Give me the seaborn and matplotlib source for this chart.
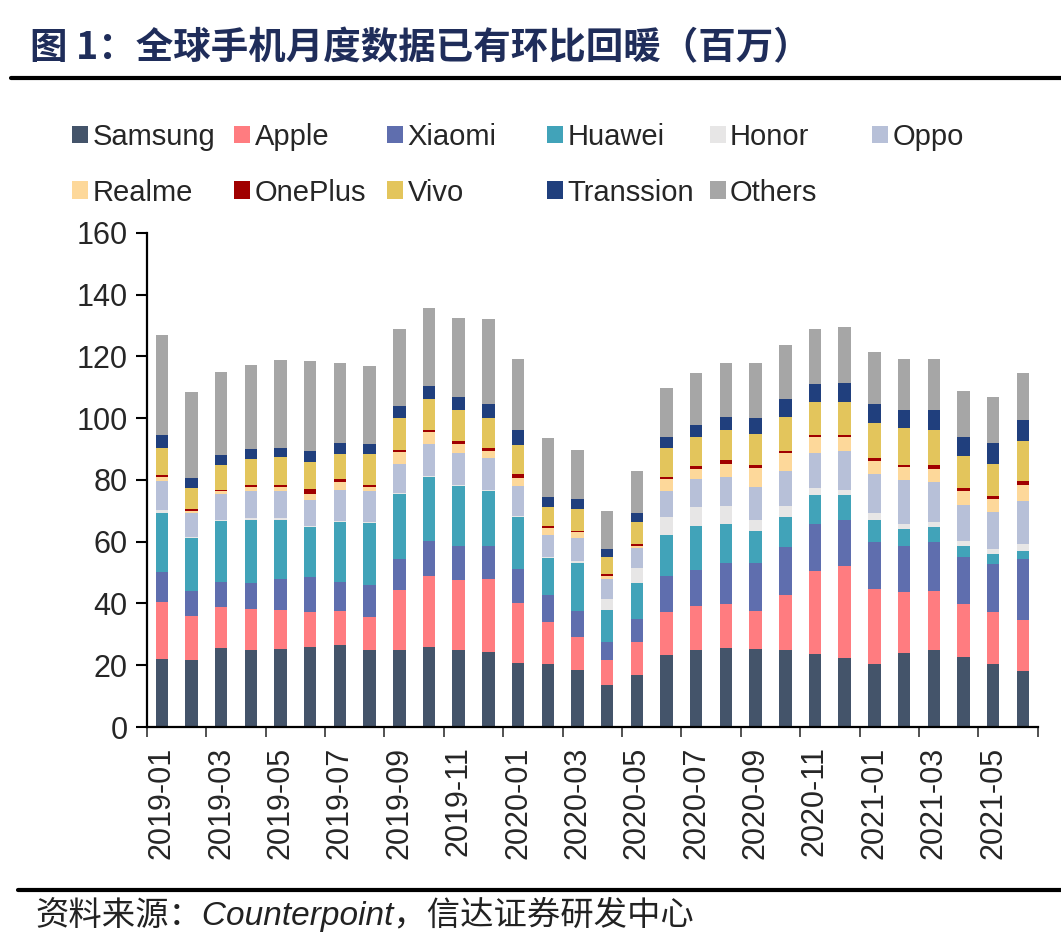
import numpy as np
import pandas as pd
import seaborn as sns
from matplotlib import pyplot as plt
from matplotlib.lines import Line2D
from matplotlib.patches import Patch

months = [
    "2019-01", "2019-02", "2019-03", "2019-04", "2019-05", "2019-06",
    "2019-07", "2019-08", "2019-09", "2019-10", "2019-11", "2019-12",
    "2020-01", "2020-02", "2020-03", "2020-04", "2020-05", "2020-06",
    "2020-07", "2020-08", "2020-09", "2020-10", "2020-11", "2020-12",
    "2021-01", "2021-02", "2021-03", "2021-04", "2021-05", "2021-06",
]

# monthly shipments, millions
samsung = [21.9, 21.6, 25.6, 25.0, 25.3, 25.9, 26.4, 25.0, 24.8, 25.9, 24.8, 24.4, 20.8, 20.5, 18.5,
           13.5, 16.7, 23.2, 24.8, 25.6, 25.3, 25.0, 23.5, 22.4, 20.5, 24.0, 24.8, 22.8, 20.5, 18.1]
apple = [18.5, 14.5, 13.4, 13.3, 12.7, 11.3, 11.3, 10.6, 19.6, 22.9, 22.8, 23.6, 19.4, 13.4, 10.6,
         8.3, 10.8, 14.0, 14.5, 14.3, 12.2, 17.9, 27.1, 29.6, 24.2, 19.6, 19.4, 16.9, 16.7, 16.6]
xiaomi = [9.7, 7.9, 8.1, 8.3, 10.0, 11.3, 9.2, 10.5, 10.0, 11.5, 11.0, 10.7, 11.0, 8.9, 8.4,
          5.7, 7.5, 11.8, 11.7, 13.2, 15.6, 15.3, 15.1, 15.0, 15.1, 15.1, 15.6, 15.3, 15.6, 19.7]
huawei = [19.2, 17.2, 19.5, 20.6, 19.2, 16.2, 19.4, 19.9, 21.0, 20.7, 19.3, 17.8, 16.7, 11.9, 15.7,
          10.4, 11.6, 13.3, 14.2, 12.6, 10.5, 9.9, 9.4, 8.1, 7.2, 5.4, 4.9, 3.7, 3.2, 2.7]
honor = [1.0, 0.4, 0.4, 0.5, 0.4, 0.4, 0.3, 0.4, 0.4, 0.4, 0.4, 0.4, 0.4, 0.5, 0.7,
         3.6, 4.8, 5.8, 5.9, 6.0, 3.6, 3.5, 2.3, 1.6, 2.2, 1.8, 1.6, 1.6, 1.7, 2.2]
oppo = [9.4, 7.6, 8.4, 8.8, 8.9, 8.4, 10.1, 10.1, 9.3, 10.2, 10.4, 10.1, 9.7, 7.1, 7.3,
        6.5, 6.5, 8.4, 9.2, 9.3, 10.4, 11.2, 11.2, 12.7, 12.9, 14.1, 12.9, 11.7, 11.8, 13.8]
realme = [1.3, 0.8, 0.9, 1.3, 1.3, 2.1, 2.8, 1.1, 3.9, 3.8, 2.9, 2.4, 2.8, 2.0, 1.8,
          1.0, 0.8, 3.8, 3.3, 4.3, 6.2, 5.8, 5.2, 4.4, 4.1, 4.1, 4.3, 4.3, 4.3, 5.3]
oneplus = [0.7, 0.6, 0.6, 0.6, 0.6, 1.4, 0.7, 0.8, 0.7, 0.9, 0.9, 1.1, 1.1, 0.9, 0.6,
           0.4, 0.6, 0.7, 0.9, 1.1, 0.9, 0.8, 0.8, 0.8, 0.9, 0.8, 1.4, 1.1, 1.1, 1.3]
vivo = [8.5, 6.7, 8.0, 8.3, 9.1, 8.7, 8.2, 10.0, 10.5, 9.8, 10.2, 9.7, 9.5, 6.1, 7.0,
        5.6, 7.0, 9.5, 9.5, 9.9, 10.3, 11.0, 10.5, 10.7, 11.5, 11.8, 11.2, 10.4, 10.4, 12.8]
transsion = [4.4, 3.5, 3.1, 3.3, 3.0, 3.7, 3.5, 3.2, 3.6, 4.4, 4.2, 4.5, 4.9, 3.3, 3.4,
             2.7, 2.9, 3.5, 3.8, 4.1, 5.2, 5.7, 5.9, 6.2, 5.9, 6.0, 6.6, 6.0, 6.8, 6.9]
others = [32.3, 27.7, 27.0, 27.1, 28.3, 29.1, 25.9, 25.3, 25.0, 25.3, 25.6, 27.3, 23.0, 18.9, 15.7,
          12.3, 13.6, 15.9, 17.0, 17.4, 17.6, 17.6, 17.8, 18.0, 17.1, 16.4, 16.6, 15.0, 14.9, 15.4]

brands = ["Samsung", "Apple", "Xiaomi", "Huawei", "Honor", "Oppo",
          "Realme", "OnePlus", "Vivo", "Transsion", "Others"]
colors = ["#44546a", "#ff7c80", "#5f6eae", "#41a3b9", "#e7e6e6", "#b7c0d8",
          "#fdd89a", "#a00000", "#e3c55c", "#203f7d", "#a6a6a6"]

df = pd.DataFrame(
    dict(zip(brands, [samsung, apple, xiaomi, huawei, honor, oppo,
                      realme, oneplus, vivo, transsion, others])),
    index=months,
)
stacked = df.cumsum(axis=1)

sns.set_theme(style="ticks")
plt.rcParams["font.family"] = ["Liberation Sans", "Noto Sans CJK SC", "DejaVu Sans"]

fig = plt.figure(figsize=(10.61, 9.47), dpi=100)
ax = fig.add_axes([0.1385, 0.2323, 0.8395, 0.5217])

# draw tallest first, each lower cumulative layer on top of it
for brand, color in zip(brands[::-1], colors[::-1]):
    sns.barplot(
        x=months, y=stacked[brand].values, color=color, saturation=1,
        width=0.42, linewidth=0, ax=ax,
    )

ax.set_xlim(-0.5, 29.5)
ax.set_ylim(0, 160)
ax.set_yticks(range(0, 161, 20))
ax.set_xticks(range(0, 30, 2))
ax.set_xticklabels(months[::2], rotation=90)
ax.set_xticks(np.arange(-0.5, 30, 2), minor=True)
ax.tick_params(axis="x", which="major", length=0, pad=14, labelsize=22)
ax.tick_params(axis="x", which="minor", length=7, width=1.2, color="#333333", direction="out")
ax.tick_params(axis="y", length=8, width=1.5, color="black", labelsize=22, pad=6)
ax.set_xlabel("")
ax.set_ylabel("")
for side in ("left", "bottom"):
    ax.spines[side].set_color("black")
    ax.spines[side].set_linewidth(1.6)
sns.despine(ax=ax)

# legend: six evenly spaced columns, two rows (row-wise reading)
col_x = [0.043, 0.196, 0.340, 0.491, 0.644, 0.797]
for c, x in enumerate(col_x):
    idx = [c, c + 6] if c + 6 < len(brands) else [c]
    handles = [Patch(facecolor=colors[i], edgecolor="none", label=brands[i]) for i in idx]
    fig.legend(
        handles=handles, loc="upper left", bbox_to_anchor=(x, 0.898),
        frameon=False, fontsize=21, handlelength=0.55, handleheight=0.55,
        handletextpad=0.15, labelspacing=0.95,
    )

fig.text(0.028, 0.950, "图 1：全球手机月度数据已有环比回暖（百万）", fontsize=27,
         fontweight="bold", color="#1f2d5a", va="center",
         family=["Noto Sans CJK SC", "DejaVu Sans"])
fig.add_artist(Line2D([0.01, 1.0], [0.918, 0.918], color="black", lw=3))
fig.add_artist(Line2D([0.017, 1.0], [0.060, 0.060], color="black", lw=3))
fig.text(0.033, 0.034, "资料来源：Counterpoint，信达证券研发中心", fontsize=24,
         style="italic", color="#222222", va="center",
         family=["Liberation Sans", "Noto Sans CJK SC"])

fig.savefig("out.png", dpi=100)
